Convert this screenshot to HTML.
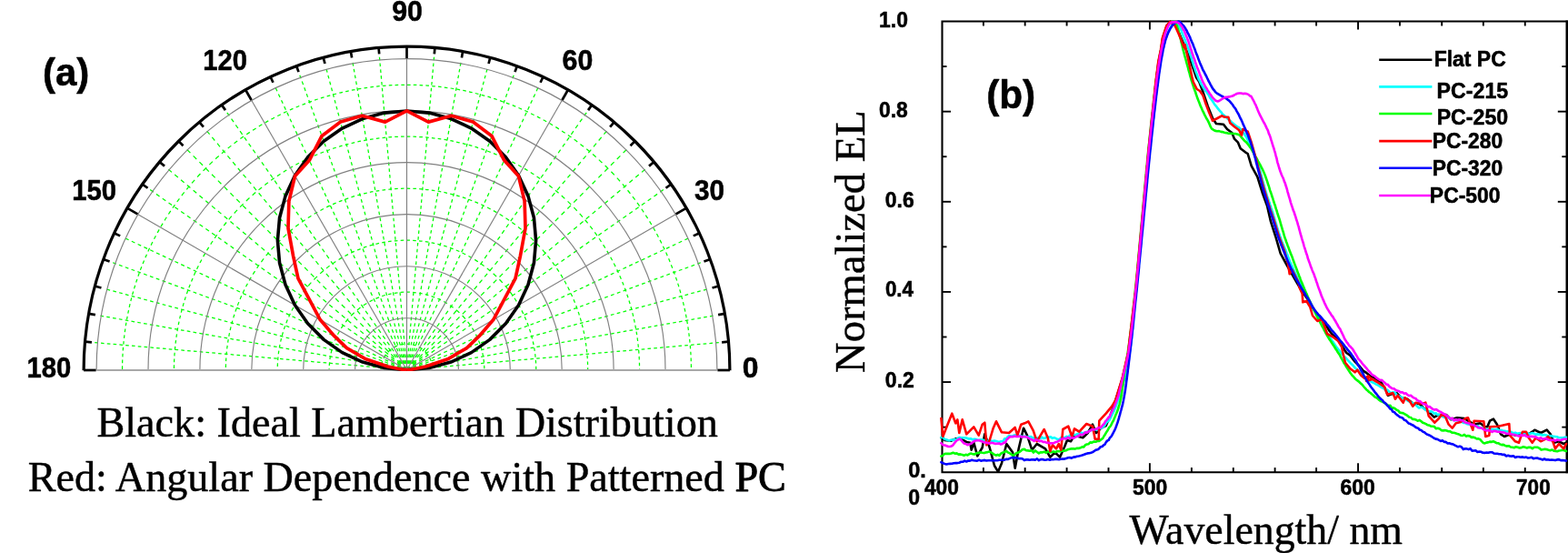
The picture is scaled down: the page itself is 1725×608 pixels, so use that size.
<!DOCTYPE html>
<html><head><meta charset="utf-8"><title>Figure</title>
<style>
html,body{margin:0;padding:0;background:#fff;}
body{width:1725px;height:608px;overflow:hidden;}
svg{display:block;}
.sb,.sr{font-kerning:none;}
.sb{font-family:"Liberation Sans",Arial,Helvetica,sans-serif;font-weight:bold;fill:#000;stroke:#000;stroke-width:0.55;stroke-linejoin:round;}
.sr{font-family:"Liberation Serif","Times New Roman",Times,serif;fill:#000;stroke:#000;stroke-width:0.45;stroke-linejoin:round;}
.gd{stroke:#00ff00;stroke-width:1.25;}
.gs{stroke:#808080;stroke-width:1.15;}
.bk{stroke:#000;stroke-width:3.6;stroke-linejoin:round;}
.rd{stroke:#ff0000;stroke-width:3.7;stroke-linejoin:round;}
.tk{stroke:#000;stroke-width:1.9;}
.cv{stroke-width:2.6;stroke-linejoin:round;stroke-linecap:round;fill:none;}
</style></head><body>
<svg width="1725" height="608" viewBox="0 0 1725 608">
<rect width="1725" height="608" fill="#fff"/>
<g fill="none" transform="translate(0,406.7) scale(1,1.002) translate(0,-406.7)">
<path class="gd" stroke-dasharray="2.62 3.22 3.74 3.48 4.18 4.12 4.82 3.84 3.98 3.38 3.66 3.22 3.6 3.24 3.76 3.52 4.24 4.2 4.74 3.78 3.96 3.34 3.66 3.06" d="M419.05,406.7 A28.45,28.45 0 0 1 475.95,406.7"/>
<path class="gd" stroke-dasharray="1.62 3.2 3.6 3.22 3.66 3.26 3.7 3.32 3.8 3.42 3.94 3.54 4.1 3.74 4.32 3.98 4.66 4.34 5.02 4.26 4.58 3.94 4.28 3.68 4.06 3.54 3.88 3.4 3.78 3.32 3.7 3.24 3.64 3.22 3.6 3.2 3.6 3.22 3.62 3.22 3.66 3.28 3.72 3.36 3.82 3.44 3.96 3.6 4.14 3.8 4.4 4.06 4.76 4.44 4.92 4.16 4.5 3.86 4.22 3.66 4 3.5 3.86 3.38 3.74 3.3 3.68 3.24 3.62 3.22 3.6 1.8" d="M362.15,406.7 A85.35,85.35 0 0 1 532.85,406.7"/>
<path class="gd" stroke-dasharray="0.6 3.22 3.6 3.2 3.62 3.22 3.62 3.24 3.66 3.28 3.7 3.3 3.76 3.36 3.8 3.42 3.88 3.48 3.98 3.58 4.08 3.68 4.2 3.8 4.36 3.96 4.56 4.16 4.8 4.38 5.06 4.36 4.78 4.14 4.54 3.96 4.34 3.8 4.2 3.68 4.06 3.58 3.96 3.48 3.88 3.42 3.8 3.36 3.74 3.3 3.7 3.26 3.66 3.24 3.64 3.22 3.6 3.22 3.6 3.2 3.6 3.2 3.6 3.22 3.62 3.22 3.66 3.24 3.68 3.28 3.72 3.34 3.76 3.38 3.84 3.44 3.92 3.52 4.02 3.62 4.12 3.72 4.28 3.86 4.44 4.04 4.64 4.26 4.9 4.5 4.94 4.28 4.66 4.06 4.46 3.88 4.28 3.76 4.14 3.62 4.02 3.54 3.92 3.46 3.84 3.38 3.78 3.34 3.72 3.28 3.68 3.26 3.66 3.22 3.62 3.22 3.6 3.2 3.6 0.54" d="M305.25,406.7 A142.25,142.25 0 0 1 589.75,406.7"/>
<path class="gd" stroke-dasharray="0 2.82 3.6 3.2 3.6 3.2 3.62 3.22 3.64 3.22 3.66 3.24 3.68 3.26 3.7 3.3 3.74 3.32 3.78 3.36 3.82 3.42 3.86 3.46 3.92 3.52 4 3.58 4.08 3.64 4.16 3.76 4.26 3.84 4.38 3.94 4.52 4.08 4.68 4.22 4.86 4.42 5.06 4.42 4.88 4.24 4.7 4.08 4.52 3.96 4.4 3.84 4.28 3.74 4.16 3.66 4.08 3.6 3.98 3.54 3.92 3.46 3.88 3.42 3.8 3.38 3.78 3.32 3.74 3.3 3.7 3.28 3.66 3.26 3.64 3.24 3.64 3.22 3.6 3.22 3.6 3.2 3.6 3.2 3.6 3.22 3.6 3.2 3.62 3.2 3.62 3.24 3.64 3.24 3.66 3.26 3.68 3.3 3.7 3.32 3.76 3.36 3.78 3.4 3.84 3.44 3.9 3.5 3.96 3.56 4.04 3.62 4.12 3.7 4.22 3.8 4.34 3.9 4.44 4.04 4.6 4.16 4.78 4.34 4.98 4.5 4.96 4.32 4.76 4.16 4.58 4.02 4.44 3.88 4.32 3.8 4.2 3.7 4.1 3.62 4.04 3.54 3.96 3.5 3.88 3.44 3.84 3.38 3.8 3.34 3.76 3.32 3.7 3.3 3.68 3.26 3.66 3.24 3.64 3.22 3.62 3.22 3.6 3.2 3.6 3.2 2.88 0" d="M248.35,406.7 A199.15,199.15 0 0 1 646.65,406.7"/>
<path class="gd" stroke-dasharray="0 1.82 3.6 3.2 3.6 3.2 3.6 3.22 3.62 3.22 3.62 3.22 3.64 3.24 3.66 3.26 3.68 3.28 3.68 3.3 3.72 3.32 3.76 3.34 3.78 3.38 3.82 3.4 3.86 3.46 3.9 3.48 3.96 3.54 4 3.58 4.08 3.64 4.14 3.7 4.22 3.78 4.28 3.86 4.4 3.94 4.5 4.04 4.62 4.14 4.76 4.28 4.9 4.42 5.06 4.46 4.94 4.3 4.78 4.18 4.64 4.06 4.52 3.96 4.4 3.88 4.3 3.8 4.22 3.72 4.16 3.66 4.08 3.6 4.02 3.54 3.96 3.5 3.9 3.46 3.88 3.4 3.84 3.38 3.78 3.36 3.76 3.32 3.72 3.3 3.7 3.28 3.68 3.26 3.66 3.24 3.64 3.24 3.62 3.22 3.62 3.22 3.6 3.22 3.6 3.2 3.6 3.2 3.6 3.2 3.6 3.2 3.62 3.2 3.62 3.22 3.62 3.22 3.64 3.24 3.64 3.26 3.66 3.28 3.7 3.28 3.72 3.3 3.76 3.34 3.76 3.38 3.8 3.4 3.86 3.42 3.9 3.48 3.94 3.52 4 3.56 4.06 3.64 4.1 3.7 4.2 3.76 4.26 3.84 4.36 3.92 4.48 4.02 4.58 4.12 4.7 4.26 4.86 4.38 5.04 4.5 4.96 4.34 4.82 4.22 4.66 4.1 4.54 3.98 4.44 3.9 4.32 3.82 4.24 3.74 4.18 3.66 4.1 3.62 4.02 3.56 3.98 3.52 3.92 3.46 3.88 3.42 3.84 3.4 3.78 3.36 3.78 3.32 3.74 3.3 3.72 3.28 3.68 3.26 3.66 3.26 3.64 3.24 3.62 3.24 3.62 3.2 3.62 3.2 3.6 3.2 3.62 3.2 1.6 0" d="M191.45,406.7 A256.05,256.05 0 0 1 703.55,406.7"/>
<path class="gd" stroke-dasharray="0 0.8 3.62 3.2 3.6 3.2 3.6 3.2 3.62 3.2 3.62 3.22 3.62 3.24 3.62 3.24 3.66 3.24 3.66 3.26 3.68 3.28 3.7 3.28 3.72 3.32 3.74 3.32 3.76 3.36 3.8 3.38 3.82 3.4 3.86 3.44 3.88 3.48 3.92 3.52 3.96 3.56 4 3.6 4.06 3.64 4.12 3.68 4.18 3.76 4.24 3.8 4.32 3.86 4.4 3.94 4.48 4.02 4.58 4.1 4.68 4.22 4.78 4.32 4.92 4.44 5.06 4.48 4.96 4.36 4.84 4.24 4.72 4.14 4.6 4.04 4.52 3.96 4.42 3.9 4.34 3.82 4.26 3.76 4.2 3.72 4.14 3.64 4.08 3.62 4.02 3.56 3.98 3.52 3.94 3.5 3.9 3.44 3.86 3.42 3.84 3.38 3.8 3.36 3.78 3.34 3.74 3.32 3.72 3.3 3.7 3.3 3.68 3.26 3.66 3.26 3.64 3.24 3.64 3.24 3.62 3.22 3.62 3.22 3.62 3.2 3.6 3.2 3.62 3.2 3.6 3.2 3.6 3.2 3.6 3.2 3.6 3.2 3.62 3.2 3.62 3.22 3.62 3.24 3.62 3.24 3.64 3.26 3.66 3.26 3.66 3.28 3.7 3.28 3.72 3.32 3.72 3.34 3.76 3.36 3.78 3.38 3.82 3.4 3.86 3.44 3.88 3.46 3.94 3.5 3.96 3.54 4.02 3.58 4.06 3.64 4.12 3.68 4.18 3.74 4.24 3.8 4.3 3.86 4.4 3.92 4.48 4.02 4.56 4.1 4.66 4.2 4.8 4.3 4.9 4.44 5.04 4.5 4.98 4.36 4.84 4.26 4.72 4.14 4.62 4.06 4.52 3.96 4.44 3.9 4.34 3.82 4.28 3.76 4.22 3.7 4.14 3.66 4.1 3.6 4.04 3.56 4 3.52 3.94 3.48 3.9 3.46 3.86 3.42 3.84 3.4 3.8 3.36 3.78 3.34 3.74 3.32 3.74 3.3 3.7 3.28 3.68 3.26 3.68 3.26 3.64 3.24 3.64 3.24 3.62 3.22 3.62 3.22 3.62 3.2 3.6 3.2 3.62 3.2 3.6 3.2 0.34 0" d="M134.55,406.7 A312.95,312.95 0 0 1 760.45,406.7"/>
<path class="gd" stroke-dasharray="3.61 3.21" d="M447.5,406.7 L791.09,376.64"/>
<path class="gd" stroke-dasharray="3.66 3.25" d="M447.5,406.7 L787.16,346.81"/>
<path class="gd" stroke-dasharray="3.73 3.31" d="M447.5,406.7 L780.65,317.43"/>
<path class="gd" stroke-dasharray="3.83 3.41" d="M447.5,406.7 L771.60,288.74"/>
<path class="gd" stroke-dasharray="3.97 3.53" d="M447.5,406.7 L760.09,260.94"/>
<path class="gd" stroke-dasharray="4.39 3.91" d="M447.5,406.7 L730.03,208.87"/>
<path class="gd" stroke-dasharray="4.70 4.18" d="M447.5,406.7 L711.71,185.00"/>
<path class="gd" stroke-dasharray="5.09 4.53" d="M447.5,406.7 L691.38,162.82"/>
<path class="gd" stroke-dasharray="4.70 4.18" d="M447.5,406.7 L669.20,142.49"/>
<path class="gd" stroke-dasharray="4.39 3.91" d="M447.5,406.7 L645.33,124.17"/>
<path class="gd" stroke-dasharray="3.97 3.53" d="M447.5,406.7 L593.26,94.11"/>
<path class="gd" stroke-dasharray="3.83 3.41" d="M447.5,406.7 L565.46,82.60"/>
<path class="gd" stroke-dasharray="3.73 3.31" d="M447.5,406.7 L536.77,73.55"/>
<path class="gd" stroke-dasharray="3.66 3.25" d="M447.5,406.7 L507.39,67.04"/>
<path class="gd" stroke-dasharray="3.61 3.21" d="M447.5,406.7 L477.56,63.11"/>
<path class="gd" stroke-dasharray="3.61 3.21" d="M447.5,406.7 L417.44,63.11"/>
<path class="gd" stroke-dasharray="3.66 3.25" d="M447.5,406.7 L387.61,67.04"/>
<path class="gd" stroke-dasharray="3.73 3.31" d="M447.5,406.7 L358.23,73.55"/>
<path class="gd" stroke-dasharray="3.83 3.41" d="M447.5,406.7 L329.54,82.60"/>
<path class="gd" stroke-dasharray="3.97 3.53" d="M447.5,406.7 L301.74,94.11"/>
<path class="gd" stroke-dasharray="4.39 3.91" d="M447.5,406.7 L249.67,124.17"/>
<path class="gd" stroke-dasharray="4.70 4.18" d="M447.5,406.7 L225.80,142.49"/>
<path class="gd" stroke-dasharray="5.09 4.53" d="M447.5,406.7 L203.62,162.82"/>
<path class="gd" stroke-dasharray="4.70 4.18" d="M447.5,406.7 L183.29,185.00"/>
<path class="gd" stroke-dasharray="4.39 3.91" d="M447.5,406.7 L164.97,208.87"/>
<path class="gd" stroke-dasharray="3.97 3.53" d="M447.5,406.7 L134.91,260.94"/>
<path class="gd" stroke-dasharray="3.83 3.41" d="M447.5,406.7 L123.40,288.74"/>
<path class="gd" stroke-dasharray="3.73 3.31" d="M447.5,406.7 L114.35,317.43"/>
<path class="gd" stroke-dasharray="3.66 3.25" d="M447.5,406.7 L107.84,346.81"/>
<path class="gd" stroke-dasharray="3.61 3.21" d="M447.5,406.7 L103.91,376.64"/>
<path class="gs" d="M390.60,406.7 A56.90,56.90 0 0 1 504.40,406.7"/>
<path class="gs" d="M333.70,406.7 A113.80,113.80 0 0 1 561.30,406.7"/>
<path class="gs" d="M276.80,406.7 A170.70,170.70 0 0 1 618.20,406.7"/>
<path class="gs" d="M219.90,406.7 A227.60,227.60 0 0 1 675.10,406.7"/>
<path class="gs" d="M163.00,406.7 A284.50,284.50 0 0 1 732.00,406.7"/>
<path class="gs" d="M106.10,406.7 A341.40,341.40 0 0 1 788.90,406.7"/>
<path class="gs" d="M447.5,406.7 L743.16,236.00"/>
<path class="gs" d="M447.5,406.7 L618.20,111.04"/>
<path class="gs" d="M447.5,406.7 L447.50,65.30"/>
<path class="gs" d="M447.5,406.7 L276.80,111.04"/>
<path class="gs" d="M447.5,406.7 L151.84,236.00"/>
<path d="M106.10,407.0 L788.90,407.0" stroke="#a8a8a8" stroke-width="2"/>
<clipPath id="pc"><rect x="0" y="0" width="900" height="407.90"/></clipPath>
<g clip-path="url(#pc)">
<path class="bk" d="M447.50,406.70 L472.18,404.54 L496.10,398.13 L518.55,387.66 L538.84,373.45 L556.35,355.94 L570.56,335.65 L581.03,313.20 L587.44,289.28 L589.60,264.60 L587.44,239.92 L581.03,216.00 L570.56,193.55 L556.35,173.26 L538.84,155.75 L518.55,141.54 L496.10,131.07 L472.18,124.66 L447.50,122.50 L422.82,124.66 L398.90,131.07 L376.45,141.54 L356.16,155.75 L338.65,173.26 L324.44,193.55 L313.97,216.00 L307.56,239.92 L305.40,264.60 L307.56,289.28 L313.97,313.20 L324.44,335.65 L338.65,355.94 L356.16,373.45 L376.45,387.66 L398.90,398.13 L422.82,404.54 L447.50,406.70"/>
<path class="rd" d="M447.50,406.70 L452.48,406.26 L468.18,403.05 L493.38,394.41 L513.56,382.66 L527.26,369.51 L542.76,351.70 L552.76,333.00 L567.00,306.43 L572.38,281.82 L577.99,251.19 L577.13,221.57 L570.40,193.83 L554.72,176.77 L540.94,149.98 L520.41,134.60 L496.68,127.80 L471.30,134.64 L447.50,122.50 L423.70,134.64 L398.32,127.80 L374.59,134.60 L354.06,149.98 L340.28,176.77 L324.60,193.83 L317.87,221.57 L317.01,251.19 L322.62,281.82 L328.00,306.43 L342.24,333.00 L352.24,351.70 L367.74,369.51 L381.44,382.66 L401.62,394.41 L426.82,403.05 L442.52,406.26 L447.50,406.70"/>
</g>
<path d="M92.10,407.3 A355.4,355.4 0 0 1 802.90,407.3" stroke="#000" stroke-width="3.2"/>
<path d="M802.90,407.00 L789.40,407.00" stroke="#000" stroke-width="2.7"/>
<path d="M801.55,375.72 L794.08,376.38" stroke="#000" stroke-width="2.7"/>
<path d="M797.50,344.99 L790.11,346.29" stroke="#000" stroke-width="2.7"/>
<path d="M790.79,314.72 L783.55,316.66" stroke="#000" stroke-width="2.7"/>
<path d="M781.47,285.15 L774.42,287.71" stroke="#000" stroke-width="2.7"/>
<path d="M769.60,256.50 L762.80,259.67" stroke="#000" stroke-width="2.7"/>
<path d="M755.29,229.00 L743.59,235.75" stroke="#000" stroke-width="2.7"/>
<path d="M738.63,202.85 L732.48,207.15" stroke="#000" stroke-width="2.7"/>
<path d="M719.75,178.25 L714.01,183.07" stroke="#000" stroke-width="2.7"/>
<path d="M698.81,155.39 L693.50,160.70" stroke="#000" stroke-width="2.7"/>
<path d="M675.95,134.45 L671.13,140.19" stroke="#000" stroke-width="2.7"/>
<path d="M651.35,115.57 L647.05,121.72" stroke="#000" stroke-width="2.7"/>
<path d="M625.20,98.91 L618.45,110.61" stroke="#000" stroke-width="2.7"/>
<path d="M597.70,84.60 L594.53,91.40" stroke="#000" stroke-width="2.7"/>
<path d="M569.05,72.73 L566.49,79.78" stroke="#000" stroke-width="2.7"/>
<path d="M539.48,63.41 L537.54,70.65" stroke="#000" stroke-width="2.7"/>
<path d="M509.21,56.70 L507.91,64.09" stroke="#000" stroke-width="2.7"/>
<path d="M478.48,52.65 L477.82,60.12" stroke="#000" stroke-width="2.7"/>
<path d="M447.50,51.30 L447.50,64.80" stroke="#000" stroke-width="2.7"/>
<path d="M416.52,52.65 L417.18,60.12" stroke="#000" stroke-width="2.7"/>
<path d="M385.79,56.70 L387.09,64.09" stroke="#000" stroke-width="2.7"/>
<path d="M355.52,63.41 L357.46,70.65" stroke="#000" stroke-width="2.7"/>
<path d="M325.95,72.73 L328.51,79.78" stroke="#000" stroke-width="2.7"/>
<path d="M297.30,84.60 L300.47,91.40" stroke="#000" stroke-width="2.7"/>
<path d="M269.80,98.91 L276.55,110.61" stroke="#000" stroke-width="2.7"/>
<path d="M243.65,115.57 L247.95,121.72" stroke="#000" stroke-width="2.7"/>
<path d="M219.05,134.45 L223.87,140.19" stroke="#000" stroke-width="2.7"/>
<path d="M196.19,155.39 L201.50,160.70" stroke="#000" stroke-width="2.7"/>
<path d="M175.25,178.25 L180.99,183.07" stroke="#000" stroke-width="2.7"/>
<path d="M156.37,202.85 L162.52,207.15" stroke="#000" stroke-width="2.7"/>
<path d="M139.71,229.00 L151.41,235.75" stroke="#000" stroke-width="2.7"/>
<path d="M125.40,256.50 L132.20,259.67" stroke="#000" stroke-width="2.7"/>
<path d="M113.53,285.15 L120.58,287.71" stroke="#000" stroke-width="2.7"/>
<path d="M104.21,314.72 L111.45,316.66" stroke="#000" stroke-width="2.7"/>
<path d="M97.50,344.99 L104.89,346.29" stroke="#000" stroke-width="2.7"/>
<path d="M93.45,375.72 L100.92,376.38" stroke="#000" stroke-width="2.7"/>
<path d="M92.10,407.00 L105.60,407.00" stroke="#000" stroke-width="2.7"/>
</g>
<text class="sb" font-size="32.00" transform="translate(431.22,23.20) scale(0.9481,1)">90</text>
<text class="sb" font-size="32.00" transform="translate(223.34,76.80) scale(0.9099,1)">120</text>
<text class="sb" font-size="32.00" transform="translate(618.57,77.00) scale(0.9469,1)">60</text>
<text class="sb" font-size="32.00" transform="translate(79.13,220.00) scale(0.9159,1)">150</text>
<text class="sb" font-size="32.00" transform="translate(764.09,220.00) scale(0.9286,1)">30</text>
<text class="sb" font-size="32.00" transform="translate(29.53,415.10) scale(0.9139,1)">180</text>
<text class="sb" font-size="32.00" transform="translate(816.72,415.10) scale(0.9955,1)">0</text>
<text class="sb" font-size="43.20" transform="translate(46.98,94.00) scale(0.9723,1)">(a)</text>
<text class="sr" font-size="45.50" transform="translate(106.49,479.70) scale(1.0149,1)">Black: Ideal Lambertian Distribution</text>
<text class="sr" style="font-kerning:normal" font-size="45.50" transform="translate(30.70,540.20) scale(1.0144,1)">Red: Angular Dependence with Patterned <tspan stroke-width="0.9">PC</tspan></text>
<g fill="none">
<path d="M1724.8,23.5 H1036.5 V519.2 H1724.8" stroke="#000" stroke-width="2.1" stroke-linejoin="miter"/>
<path d="M1723.8,22.45 V520.25" stroke="#000" stroke-width="2.6"/>
<path class="tk" d="M1081.90,519.2 v-5.1"/>
<path class="tk" d="M1081.90,23.5 v5"/>
<path class="tk" d="M1127.65,519.2 v-5.1"/>
<path class="tk" d="M1127.65,23.5 v5"/>
<path class="tk" d="M1173.58,519.2 v-5.1"/>
<path class="tk" d="M1173.58,23.5 v5"/>
<path class="tk" d="M1219.50,519.2 v-5.1"/>
<path class="tk" d="M1219.50,23.5 v5"/>
<path class="tk" d="M1264.90,519.2 v-10"/>
<path class="tk" d="M1264.90,23.5 v9"/>
<path class="tk" d="M1310.90,519.2 v-5.1"/>
<path class="tk" d="M1310.90,23.5 v5"/>
<path class="tk" d="M1356.80,519.2 v-5.1"/>
<path class="tk" d="M1356.80,23.5 v5"/>
<path class="tk" d="M1402.60,519.2 v-5.1"/>
<path class="tk" d="M1402.60,23.5 v5"/>
<path class="tk" d="M1448.10,519.2 v-5.1"/>
<path class="tk" d="M1448.10,23.5 v5"/>
<path class="tk" d="M1494.05,519.2 v-10"/>
<path class="tk" d="M1494.05,23.5 v9"/>
<path class="tk" d="M1539.95,519.2 v-5.1"/>
<path class="tk" d="M1539.95,23.5 v5"/>
<path class="tk" d="M1586.20,519.2 v-5.1"/>
<path class="tk" d="M1586.20,23.5 v5"/>
<path class="tk" d="M1631.85,519.2 v-5.1"/>
<path class="tk" d="M1631.85,23.5 v5"/>
<path class="tk" d="M1677.75,519.2 v-5.1"/>
<path class="tk" d="M1677.75,23.5 v5"/>
<path class="tk" d="M1036.5,469.63 h5"/>
<path class="tk" d="M1723.3,469.63 h-5"/>
<path class="tk" d="M1036.5,420.06 h9.5"/>
<path class="tk" d="M1723.3,420.06 h-9.5"/>
<path class="tk" d="M1036.5,370.49 h5"/>
<path class="tk" d="M1723.3,370.49 h-5"/>
<path class="tk" d="M1036.5,320.92 h9.5"/>
<path class="tk" d="M1723.3,320.92 h-9.5"/>
<path class="tk" d="M1036.5,271.35 h5"/>
<path class="tk" d="M1723.3,271.35 h-5"/>
<path class="tk" d="M1036.5,221.78 h9.5"/>
<path class="tk" d="M1723.3,221.78 h-9.5"/>
<path class="tk" d="M1036.5,172.21 h5"/>
<path class="tk" d="M1723.3,172.21 h-5"/>
<path class="tk" d="M1036.5,122.64 h9.5"/>
<path class="tk" d="M1723.3,122.64 h-9.5"/>
<path class="tk" d="M1036.5,73.07 h5"/>
<path class="tk" d="M1723.3,73.07 h-5"/>
<polyline class="cv" stroke="#000" points="1035.4,481.3 1039.3,484.0 1046.0,484.7 1051.3,482.4 1056.7,482.4 1063.3,486.0 1067.3,486.7 1068.7,494.7 1071.3,486.7 1075.3,501.3 1080.7,492.0 1083.3,477.3 1088.7,492.0 1094.0,512.0 1098.0,518.7 1102.0,509.3 1107.3,488.0 1114.0,497.3 1116.7,514.7 1120.7,493.3 1126.0,470.7 1130.0,478.7 1135.3,494.7 1140.7,488.0 1150.0,493.3 1155.3,502.7 1160.7,497.3 1166.0,502.7 1171.3,490.7 1174.0,484.0 1178.0,485.3 1182.0,478.7 1191.3,481.3 1196.7,476.0 1202.0,466.7 1206.0,476.0 1211.3,470.7 1216.7,468.0 1220.7,458.7 1224.7,448.0 1227.3,440.0 1234.9,416.0 1241.3,388.0 1249.8,317.0 1256.7,242.0 1263.6,167.0 1271.5,92.0 1274.5,68.3 1277.2,55.0 1279.2,41.7 1283.6,28.3 1287.6,23.9 1292.0,26.0 1297.0,36.0 1302.0,48.0 1308.0,62.0 1313.0,76.0 1316.0,85.0 1319.3,90.0 1323.3,100.7 1328.7,116.7 1334.0,130.0 1338.0,136.0 1346.0,136.7 1350.0,142.0 1355.3,146.0 1358.0,152.7 1362.0,156.7 1364.7,163.3 1370.0,167.3 1372.7,169.0 1376.7,182.3 1383.3,194.3 1388.7,211.7 1394.0,226.3 1398.0,243.7 1403.3,260.0 1408.7,278.7 1416.0,292.0 1424.0,306.0 1431.0,318.0 1440.0,331.0 1446.0,341.0 1452.0,349.0 1458.0,356.0 1462.7,364.0 1466.0,368.0 1472.0,374.0 1478.0,383.0 1481.3,388.0 1485.3,390.7 1490.0,397.0 1496.0,403.0 1500.0,408.0 1502.7,409.5 1508.0,414.0 1511.0,414.7 1519.0,420.0 1524.3,428.0 1527.0,434.7 1531.0,433.3 1536.3,432.0 1541.7,437.3 1548.3,438.7 1555.0,444.0 1561.7,444.0 1567.0,449.3 1572.3,453.3 1577.7,458.7 1583.0,456.0 1591.0,456.0 1596.3,461.3 1603.0,459.3 1611.0,460.0 1615.0,462.7 1621.7,466.7 1628.3,465.3 1633.7,469.3 1636.3,469.3 1639.0,462.7 1643.0,460.7 1647.0,466.7 1651.0,477.3 1655.0,480.0 1661.7,477.3 1668.3,478.7 1675.0,476.0 1681.7,477.3 1685.7,474.7 1688.3,472.7 1695.0,476.0 1701.7,472.7 1705.7,477.3 1709.7,486.7 1715.0,485.3 1720.3,488.0 1723.0,486.7"/>
<polyline class="cv" stroke="#00ffff" points="1035.4,481.1 1037.2,480.1 1039.0,482.9 1040.9,483.3 1042.7,484.0 1044.5,484.5 1046.4,483.6 1048.3,484.1 1050.1,482.8 1052.0,484.0 1053.9,481.6 1055.8,481.1 1057.8,481.2 1059.8,481.2 1061.8,481.2 1063.8,481.8 1065.8,482.5 1067.8,482.3 1069.8,483.2 1071.8,482.8 1073.8,483.1 1075.8,484.0 1077.8,483.7 1079.8,483.4 1081.8,483.8 1083.8,484.4 1085.8,485.3 1087.8,484.4 1089.8,484.6 1091.8,485.3 1093.9,484.5 1095.9,484.9 1098.0,485.7 1099.9,485.6 1101.8,485.3 1103.6,485.2 1105.2,482.2 1106.8,482.7 1108.5,480.3 1110.2,479.1 1112.1,479.5 1114.1,479.3 1116.1,478.5 1118.1,478.2 1120.1,478.9 1122.1,479.0 1124.1,480.0 1126.1,479.9 1128.1,479.9 1130.1,480.6 1132.1,480.2 1134.1,480.1 1136.1,481.3 1138.0,481.6 1140.0,481.5 1142.0,481.5 1144.0,482.1 1146.0,480.6 1148.0,482.0 1150.0,481.5 1152.0,480.0 1153.9,480.7 1155.9,480.4 1157.9,481.9 1159.8,481.1 1161.8,482.1 1163.7,483.1 1165.7,483.1 1167.6,480.9 1169.6,481.3 1171.5,481.1 1173.5,479.9 1175.4,480.5 1177.3,478.5 1179.3,478.8 1181.2,477.6 1183.2,478.4 1185.1,477.2 1187.1,476.5 1189.0,475.3 1191.0,476.6 1192.9,475.7 1194.9,475.1 1196.8,474.8 1198.7,473.9 1200.7,472.9 1202.6,472.4 1204.6,472.0 1206.7,472.9 1208.7,471.1 1210.5,471.0 1212.1,470.3 1213.7,469.3 1215.2,468.0 1216.6,465.4 1218.0,463.6 1219.2,463.0 1220.4,462.0 1221.5,460.1 1222.5,457.9 1223.4,456.1 1224.3,454.4 1225.2,452.5 1226.0,450.9 1226.8,448.7 1227.5,447.0 1228.2,445.1 1228.9,443.3 1229.6,441.3 1230.2,439.9 1230.8,437.8 1231.4,435.9 1232.0,433.4 1232.7,431.7 1233.3,429.8 1233.8,428.0 1234.4,425.6 1235.0,424.3 1235.6,422.3 1236.1,420.0 1236.7,418.1 1237.2,416.2 1237.7,414.4 1238.2,412.5 1238.7,410.8 1239.1,408.5 1239.6,406.7 1240.0,404.6 1240.4,402.9 1240.8,400.8 1241.2,399.0 1241.5,396.6 1241.8,394.8 1242.1,392.7 1242.4,391.1 1242.7,389.0 1243.0,386.9 1243.3,384.8 1243.5,383.0 1243.8,380.8 1244.1,378.8 1244.3,377.1 1244.5,375.4 1244.8,373.0 1245.0,370.9 1245.2,368.8 1245.4,366.8 1245.6,365.1 1245.8,363.2 1246.1,361.1 1246.2,359.1 1246.4,357.1 1246.6,355.1 1246.8,352.8 1247.0,351.0 1247.2,349.1 1247.4,346.9 1247.6,345.0 1247.8,342.9 1247.9,341.0 1248.1,339.2 1248.3,337.0 1248.5,335.0 1248.7,333.2 1248.8,331.1 1249.0,329.3 1249.2,326.6 1249.4,325.2 1249.6,322.9 1249.8,321.0 1250.0,319.2 1250.2,317.2 1250.4,315.2 1250.6,313.1 1250.8,311.3 1251.0,309.0 1251.2,307.0 1251.4,305.2 1251.6,303.0 1251.8,301.4 1252.0,299.2 1252.2,297.5 1252.4,295.1 1252.6,293.0 1252.8,291.1 1253.0,289.2 1253.2,287.0 1253.4,285.2 1253.5,283.1 1253.7,281.4 1253.9,279.0 1254.1,277.3 1254.3,275.0 1254.5,273.0 1254.7,271.0 1254.9,268.9 1255.1,267.2 1255.3,265.3 1255.5,263.2 1255.7,261.3 1255.8,259.4 1256.0,257.2 1256.2,255.2 1256.4,253.1 1256.6,250.9 1256.8,249.3 1257.0,246.9 1257.2,245.3 1257.4,243.2 1257.6,241.4 1257.8,239.2 1258.0,237.0 1258.2,235.3 1258.4,233.1 1258.5,231.2 1258.7,229.2 1258.9,227.2 1259.1,225.2 1259.3,223.1 1259.5,221.2 1259.7,218.8 1259.9,217.2 1260.1,215.0 1260.2,213.4 1260.4,211.5 1260.6,208.9 1260.8,207.3 1261.0,205.2 1261.2,203.1 1261.4,201.3 1261.6,199.2 1261.8,197.0 1262.0,195.2 1262.2,193.2 1262.4,191.3 1262.6,189.1 1262.7,187.4 1262.9,185.4 1263.1,183.1 1263.3,181.2 1263.5,179.3 1263.7,177.2 1263.9,175.6 1264.1,173.4 1264.4,171.1 1264.6,169.2 1264.8,167.3 1265.0,165.7 1265.2,163.3 1265.4,161.4 1265.6,159.4 1265.8,157.4 1266.0,155.8 1266.2,153.3 1266.4,151.5 1266.6,149.4 1266.9,147.5 1267.1,145.2 1267.3,143.7 1267.5,141.4 1267.7,139.4 1267.9,137.3 1268.1,135.3 1268.4,133.5 1268.6,131.6 1268.8,129.6 1269.0,127.7 1269.2,125.6 1269.5,123.5 1269.7,121.6 1269.9,119.6 1270.2,117.5 1270.4,115.6 1270.6,113.7 1270.9,111.5 1271.1,109.5 1271.3,107.7 1271.6,105.9 1271.8,103.5 1272.1,101.5 1272.3,99.5 1272.6,97.8 1272.8,95.3 1273.1,93.7 1273.4,91.8 1273.6,89.5 1273.9,87.9 1274.1,85.7 1274.4,83.6 1274.7,81.7 1275.0,79.4 1275.2,77.6 1275.5,76.0 1275.8,73.6 1276.1,72.1 1276.4,69.7 1276.7,68.0 1277.1,65.8 1277.4,63.4 1277.8,61.8 1278.1,59.9 1278.5,57.7 1278.9,55.7 1279.3,54.0 1279.7,51.9 1280.2,49.7 1280.7,48.0 1281.2,46.3 1281.7,44.1 1282.3,42.5 1282.9,40.7 1283.7,38.6 1284.5,36.5 1285.3,34.7 1286.2,33.1 1287.1,31.5 1288.1,29.6 1289.0,27.5 1290.0,25.2 1291.1,24.0 1292.6,24.2 1294.4,25.4 1296.0,26.8 1297.1,28.2 1298.0,30.0 1298.9,31.8 1299.7,33.7 1300.4,36.0 1301.1,37.8 1301.9,40.2 1302.7,41.7 1303.4,43.3 1304.2,45.4 1304.9,47.2 1305.6,48.9 1306.3,51.1 1307.0,52.6 1307.7,54.1 1308.3,56.7 1308.9,58.4 1309.6,60.6 1310.2,62.2 1310.8,64.0 1311.4,66.4 1312.0,67.8 1312.6,70.0 1313.2,72.1 1313.8,73.8 1314.5,75.6 1315.1,77.6 1315.8,79.6 1316.5,81.2 1317.3,83.3 1318.0,85.2 1318.8,87.3 1319.6,88.7 1320.5,90.4 1321.4,92.4 1322.4,93.9 1323.5,95.8 1324.6,97.4 1325.8,99.2 1326.9,100.6 1328.1,102.3 1329.2,103.6 1330.3,105.5 1331.3,107.7 1332.4,109.0 1333.5,110.6 1334.6,112.2 1335.8,114.2 1337.0,115.7 1338.2,117.1 1339.5,118.9 1340.7,120.4 1342.0,122.0 1343.4,123.3 1344.7,125.2 1346.1,126.4 1347.6,127.7 1349.0,129.0 1350.5,130.4 1352.0,131.9 1353.5,133.0 1355.1,134.5 1356.7,135.7 1358.2,137.1 1359.8,138.3 1361.4,139.3 1363.0,140.2 1364.6,141.9 1365.9,143.4 1367.2,144.8 1368.3,146.5 1369.4,148.0 1370.5,149.8 1371.5,151.4 1372.4,153.6 1373.4,155.1 1374.3,156.8 1375.2,158.5 1376.0,160.5 1376.9,162.6 1377.7,164.3 1378.4,165.9 1379.2,168.2 1379.9,170.0 1380.6,171.8 1381.3,173.7 1382.0,175.6 1382.7,177.4 1383.3,179.3 1384.0,181.0 1384.6,183.3 1385.2,185.0 1385.8,187.2 1386.4,188.4 1387.0,190.8 1387.5,192.8 1388.1,194.5 1388.6,196.5 1389.1,198.5 1389.6,200.4 1390.1,202.2 1390.6,204.2 1391.2,206.3 1391.7,208.3 1392.3,210.0 1392.9,211.9 1393.5,213.9 1394.1,215.9 1394.8,217.5 1395.4,219.3 1396.1,221.5 1396.7,223.1 1397.3,225.1 1398.0,227.2 1398.6,229.1 1399.2,230.8 1399.8,233.0 1400.4,234.5 1401.0,236.8 1401.5,238.4 1402.1,240.3 1402.7,242.6 1403.3,244.3 1403.9,246.2 1404.5,248.1 1405.1,250.2 1405.7,252.0 1406.3,254.0 1406.9,256.1 1407.5,257.6 1408.2,259.6 1408.8,261.5 1409.5,263.6 1410.2,265.5 1411.0,267.4 1411.7,269.0 1412.5,270.9 1413.2,272.9 1414.0,274.6 1414.8,276.6 1415.5,278.5 1416.3,280.1 1417.0,282.0 1417.8,283.9 1418.5,286.1 1419.3,288.1 1420.1,289.5 1420.8,291.3 1421.6,292.8 1422.4,295.1 1423.2,296.8 1424.0,298.5 1424.9,300.6 1425.7,302.0 1426.6,304.1 1427.5,306.0 1428.3,307.5 1429.2,309.7 1430.2,311.5 1431.1,312.8 1432.1,314.6 1433.1,316.7 1434.1,318.3 1435.0,319.9 1436.0,321.8 1436.9,323.6 1437.8,325.4 1438.7,327.3 1439.7,329.0 1440.6,331.1 1441.5,332.8 1442.4,334.4 1443.3,336.3 1444.2,338.1 1445.2,339.8 1446.1,341.2 1447.0,343.4 1447.9,345.0 1448.9,347.1 1449.8,348.6 1450.7,350.4 1451.7,352.2 1452.7,354.1 1453.6,355.6 1454.6,357.3 1455.6,359.1 1456.7,360.7 1457.7,362.6 1458.7,364.2 1459.8,366.0 1460.8,368.0 1461.9,369.3 1463.0,371.0 1464.1,372.7 1465.2,374.5 1466.4,375.8 1467.5,377.5 1468.7,379.3 1469.9,381.0 1471.1,382.5 1472.3,384.0 1473.6,385.5 1474.9,387.3 1476.2,389.0 1477.5,390.3 1478.8,391.8 1480.2,393.3 1481.5,394.5 1482.9,396.1 1484.3,397.6 1485.7,399.1 1487.1,400.5 1488.5,401.7 1489.9,403.5 1491.3,405.0 1492.8,406.1 1494.2,407.7 1495.6,409.1 1496.9,410.7 1498.3,411.8 1499.7,413.7 1501.2,414.7 1502.7,416.2 1504.3,417.2 1506.0,418.1 1507.8,419.2 1509.6,420.3 1511.4,421.0 1513.1,422.1 1514.9,423.0 1516.6,423.7 1518.4,425.2 1520.2,426.2 1522.0,426.8 1523.7,428.4 1525.5,428.2 1527.3,429.6 1529.1,431.4 1530.9,431.9 1532.7,431.2 1534.5,431.5 1536.2,433.6 1538.1,435.6 1539.9,435.6 1541.7,436.6 1543.5,437.9 1545.3,438.0 1547.1,439.5 1548.9,440.7 1550.6,441.5 1552.3,442.5 1554.1,443.0 1555.8,444.6 1557.6,445.1 1559.3,447.0 1561.1,448.5 1562.9,447.7 1564.7,447.7 1566.6,449.4 1568.4,450.6 1570.3,451.7 1572.2,452.5 1574.0,452.2 1575.9,452.9 1577.8,454.8 1579.6,454.2 1581.5,456.1 1583.4,456.1 1585.3,457.3 1587.1,458.0 1589.0,458.7 1591.0,459.3 1592.9,458.9 1594.8,460.1 1596.7,460.6 1598.7,461.3 1600.6,462.3 1602.5,462.1 1604.4,462.5 1606.3,463.0 1608.3,463.8 1610.2,465.0 1612.1,464.7 1614.0,466.3 1615.9,466.4 1617.9,466.7 1619.8,466.7 1621.7,468.1 1623.7,468.8 1625.6,468.1 1627.6,470.1 1629.5,470.8 1631.5,470.5 1633.4,470.9 1635.4,472.3 1637.4,472.0 1639.4,471.2 1641.4,472.0 1643.3,472.2 1645.3,472.5 1647.3,471.6 1649.3,473.4 1651.3,472.9 1653.3,473.6 1655.3,473.7 1657.3,474.5 1659.2,474.3 1661.2,474.4 1663.2,475.5 1665.2,476.3 1667.1,475.7 1669.1,476.8 1671.1,476.3 1673.1,476.0 1675.1,477.2 1677.1,476.0 1679.1,477.1 1681.1,476.4 1683.2,476.9 1685.2,476.1 1687.2,476.5 1689.2,477.6 1691.1,477.4 1693.1,477.6 1695.1,477.7 1697.1,478.5 1699.1,477.9 1701.0,478.4 1703.0,479.2 1705.0,479.1 1707.0,479.3 1709.0,479.9 1711.0,480.0 1713.0,480.2 1715.0,481.3 1717.0,481.2 1719.0,481.4 1721.0,480.9 1723.0,480.7"/>
<polyline class="cv" stroke="#00ff00" points="1035.4,501.6 1037.2,501.0 1039.0,499.0 1040.9,498.9 1042.7,498.9 1044.6,498.9 1046.5,498.5 1048.5,497.7 1050.5,498.7 1052.5,498.4 1054.5,499.6 1056.5,499.4 1058.5,499.9 1060.5,500.8 1062.5,499.8 1064.5,500.4 1066.5,499.1 1068.5,498.6 1070.5,499.4 1072.5,499.4 1074.5,498.0 1076.6,498.2 1078.6,497.2 1080.6,497.7 1082.6,498.1 1084.6,497.4 1086.6,497.1 1088.5,496.6 1090.4,497.5 1092.2,498.6 1094.0,499.8 1095.8,500.7 1097.6,499.9 1099.4,500.8 1101.2,498.7 1103.1,497.5 1104.9,497.2 1106.8,495.6 1108.7,497.3 1110.6,498.2 1112.5,499.5 1114.4,500.6 1116.2,500.1 1118.0,498.2 1119.8,497.8 1121.5,496.8 1123.3,495.6 1125.1,494.1 1127.0,493.9 1128.9,495.2 1130.9,495.4 1132.9,495.7 1134.9,495.2 1136.9,497.5 1138.9,495.4 1140.9,497.0 1142.9,498.4 1144.9,497.2 1146.9,497.4 1148.9,496.6 1150.9,497.9 1152.9,496.5 1154.9,497.2 1157.0,497.1 1159.0,496.4 1161.0,497.3 1162.9,496.0 1164.9,496.2 1166.9,496.2 1168.9,495.6 1170.8,495.6 1172.8,495.3 1174.7,494.2 1176.7,493.7 1178.7,493.4 1180.7,493.2 1182.7,493.6 1184.8,492.8 1186.7,492.9 1188.7,492.3 1190.5,491.4 1192.3,491.4 1194.0,489.2 1195.6,488.5 1197.4,488.3 1199.3,486.4 1201.3,486.6 1203.4,485.5 1205.5,485.8 1207.4,484.9 1209.1,485.0 1210.5,483.9 1211.9,482.9 1213.2,482.0 1214.5,479.5 1215.6,477.9 1216.8,475.8 1218.0,474.1 1219.1,472.1 1220.2,469.9 1221.2,469.1 1222.2,467.6 1223.1,465.7 1224.1,463.7 1225.0,462.3 1225.8,460.1 1226.6,458.3 1227.4,456.3 1228.2,454.5 1228.9,452.8 1229.5,451.3 1230.2,449.0 1230.8,446.9 1231.4,445.1 1231.9,443.2 1232.4,441.0 1232.8,439.4 1233.2,437.5 1233.5,435.5 1233.9,433.6 1234.2,431.3 1234.4,429.2 1234.7,427.7 1235.0,425.7 1235.2,423.3 1235.5,421.6 1235.7,419.5 1236.0,417.6 1236.3,415.6 1236.6,413.5 1236.9,411.6 1237.2,409.6 1237.5,407.6 1237.8,405.3 1238.2,403.2 1238.5,401.6 1238.8,399.4 1239.2,397.8 1239.5,395.9 1239.8,393.8 1240.1,391.8 1240.4,389.9 1240.7,388.1 1241.0,385.8 1241.3,384.1 1241.6,382.0 1241.8,380.0 1242.1,378.2 1242.4,375.8 1242.6,374.1 1242.9,371.8 1243.1,369.9 1243.4,367.8 1243.6,366.1 1243.9,363.9 1244.1,362.1 1244.4,359.9 1244.6,358.3 1244.9,356.4 1245.1,354.1 1245.3,352.4 1245.6,350.2 1245.8,348.5 1246.0,346.1 1246.3,343.9 1246.5,342.4 1246.7,340.1 1246.9,338.0 1247.1,336.1 1247.4,333.9 1247.6,332.2 1247.8,330.0 1248.0,328.5 1248.2,326.3 1248.4,323.9 1248.7,322.0 1248.9,320.1 1249.1,317.9 1249.3,316.2 1249.5,314.2 1249.7,312.1 1249.9,310.2 1250.1,308.4 1250.3,306.5 1250.5,304.5 1250.7,302.3 1250.9,300.4 1251.1,298.2 1251.3,296.4 1251.4,294.1 1251.6,292.4 1251.8,290.1 1252.0,288.2 1252.2,286.3 1252.4,284.4 1252.5,282.1 1252.7,280.3 1252.9,278.4 1253.1,276.4 1253.3,274.2 1253.4,272.4 1253.6,270.3 1253.8,268.6 1254.0,266.5 1254.2,264.1 1254.3,262.0 1254.5,260.4 1254.7,258.6 1254.9,256.4 1255.1,254.6 1255.2,252.3 1255.4,250.2 1255.6,248.5 1255.8,246.4 1256.0,244.5 1256.2,242.2 1256.3,240.5 1256.5,238.3 1256.7,236.6 1256.9,234.3 1257.1,232.3 1257.3,230.4 1257.4,228.7 1257.6,226.5 1257.8,224.3 1258.0,222.3 1258.2,220.3 1258.4,218.7 1258.5,216.2 1258.7,214.3 1258.9,212.6 1259.1,210.7 1259.3,208.5 1259.4,206.6 1259.6,204.6 1259.8,202.7 1260.0,200.5 1260.2,198.8 1260.4,196.6 1260.5,194.8 1260.7,192.4 1260.9,190.7 1261.1,188.3 1261.3,186.3 1261.5,184.7 1261.7,182.4 1261.9,180.7 1262.1,178.4 1262.2,176.9 1262.4,174.6 1262.6,172.4 1262.8,170.6 1263.0,168.8 1263.2,166.5 1263.4,164.7 1263.6,163.0 1263.8,160.8 1264.0,158.7 1264.3,156.6 1264.5,154.8 1264.7,152.4 1264.9,150.2 1265.1,148.6 1265.3,146.5 1265.5,145.0 1265.7,142.7 1265.9,140.5 1266.1,138.5 1266.3,136.8 1266.6,134.6 1266.8,132.6 1267.0,130.7 1267.2,128.8 1267.4,126.8 1267.6,124.8 1267.9,123.0 1268.1,121.1 1268.3,118.5 1268.5,117.3 1268.8,114.9 1269.0,113.1 1269.2,110.7 1269.5,108.9 1269.7,106.9 1269.9,104.9 1270.2,103.0 1270.4,101.0 1270.6,98.7 1270.9,96.9 1271.1,95.1 1271.4,93.1 1271.6,90.9 1271.9,88.9 1272.1,87.0 1272.4,84.8 1272.7,82.8 1272.9,81.3 1273.2,79.0 1273.5,77.1 1273.8,74.9 1274.1,73.3 1274.4,71.4 1274.7,69.1 1275.0,67.2 1275.3,65.0 1275.6,63.5 1276.0,61.4 1276.3,59.1 1276.7,57.5 1277.1,55.4 1277.4,53.4 1277.8,51.4 1278.3,49.3 1278.7,47.4 1279.1,45.6 1279.6,43.5 1280.1,41.4 1280.6,39.9 1281.1,37.6 1281.7,35.6 1282.3,33.6 1283.0,32.0 1283.8,30.3 1284.7,28.4 1285.9,26.7 1287.2,24.9 1289.0,24.2 1290.9,23.9 1292.6,25.1 1293.9,26.9 1294.8,28.1 1295.5,30.8 1296.1,32.0 1296.6,34.3 1297.1,36.4 1297.5,38.4 1298.1,40.3 1298.6,41.7 1299.1,43.9 1299.5,46.2 1300.0,47.8 1300.5,49.8 1300.9,51.5 1301.4,54.1 1301.9,55.9 1302.4,57.6 1302.9,59.6 1303.4,61.6 1303.9,63.3 1304.5,65.4 1305.0,67.4 1305.5,69.4 1306.1,71.5 1306.6,73.2 1307.1,75.0 1307.6,77.1 1308.1,78.9 1308.7,80.7 1309.2,83.1 1309.7,84.7 1310.3,86.7 1310.9,88.8 1311.5,90.4 1312.1,92.6 1312.7,94.4 1313.3,96.3 1314.0,98.2 1314.6,99.9 1315.3,101.6 1315.9,103.8 1316.6,105.6 1317.3,107.8 1318.0,109.5 1318.7,111.3 1319.5,113.2 1320.2,115.3 1321.0,117.1 1321.8,118.8 1322.6,120.7 1323.4,122.4 1324.3,124.2 1325.2,126.1 1326.1,127.8 1327.0,129.7 1328.0,131.2 1328.9,132.8 1329.9,134.8 1330.8,137.1 1331.8,139.4 1332.8,141.2 1334.0,142.2 1335.3,143.0 1337.0,143.9 1339.0,144.2 1341.1,144.1 1343.2,144.9 1345.2,145.1 1347.1,145.8 1349.1,146.1 1351.0,146.6 1353.0,146.8 1355.1,146.7 1357.1,147.0 1359.1,147.0 1361.0,147.5 1362.6,147.9 1364.2,149.0 1365.7,150.9 1367.2,152.6 1368.6,154.2 1370.0,155.5 1371.3,156.6 1372.6,158.3 1373.9,159.9 1375.0,161.6 1376.2,162.9 1377.2,164.9 1378.3,166.7 1379.3,168.2 1380.3,170.2 1381.2,172.1 1382.2,173.7 1383.2,175.6 1384.1,177.4 1385.1,179.0 1386.0,180.8 1387.0,182.4 1387.9,184.5 1388.8,186.0 1389.6,187.8 1390.5,189.8 1391.2,191.4 1392.0,193.5 1392.7,195.5 1393.3,197.2 1394.0,199.1 1394.6,201.1 1395.2,203.0 1395.8,204.5 1396.4,206.5 1397.0,208.9 1397.6,210.6 1398.2,212.1 1398.9,214.1 1399.5,216.3 1400.2,218.0 1400.8,220.1 1401.4,222.0 1402.0,223.9 1402.7,225.6 1403.3,227.8 1403.9,229.9 1404.5,231.3 1405.1,233.6 1405.7,235.5 1406.3,237.3 1406.9,239.1 1407.5,240.8 1408.1,242.8 1408.7,245.0 1409.2,247.0 1409.8,248.9 1410.4,250.8 1410.9,252.7 1411.5,254.4 1412.0,256.2 1412.6,258.4 1413.2,260.3 1413.8,262.2 1414.5,263.8 1415.1,265.9 1415.8,267.6 1416.5,269.7 1417.2,271.4 1417.9,273.4 1418.6,275.4 1419.4,277.2 1420.1,279.3 1420.8,280.7 1421.5,282.4 1422.3,284.8 1423.0,286.8 1423.7,288.7 1424.3,290.4 1425.0,292.3 1425.7,294.1 1426.4,295.7 1427.1,297.7 1427.8,299.8 1428.6,301.5 1429.3,303.8 1430.0,305.0 1430.7,307.1 1431.5,309.2 1432.2,310.8 1433.0,312.6 1433.7,314.4 1434.5,316.3 1435.3,318.6 1436.1,320.2 1436.9,322.1 1437.7,323.7 1438.5,325.8 1439.3,327.5 1440.1,329.2 1440.9,331.1 1441.8,333.0 1442.6,335.0 1443.5,336.6 1444.3,338.5 1445.2,340.6 1446.1,341.9 1447.0,343.6 1447.8,345.8 1448.7,347.5 1449.6,349.2 1450.5,351.0 1451.5,352.7 1452.4,354.6 1453.3,356.3 1454.2,358.2 1455.2,359.7 1456.1,361.5 1457.0,363.4 1458.0,365.1 1459.0,367.1 1459.9,368.7 1460.9,370.3 1462.0,372.2 1463.0,373.7 1464.1,375.2 1465.2,377.0 1466.3,378.7 1467.5,380.4 1468.6,382.2 1469.7,384.0 1470.8,385.6 1471.9,387.5 1473.0,389.1 1474.0,390.5 1475.0,392.6 1476.0,394.3 1476.9,395.8 1477.9,397.7 1478.8,399.6 1479.9,401.1 1480.9,403.0 1482.0,404.6 1483.1,406.3 1484.2,407.9 1485.3,409.7 1486.5,411.2 1487.7,412.9 1488.9,414.0 1490.3,415.8 1491.8,417.2 1493.4,418.4 1495.0,419.6 1496.4,421.0 1497.8,422.2 1499.2,423.7 1500.5,425.3 1501.9,426.8 1503.3,428.4 1504.7,429.5 1506.2,431.1 1507.7,432.0 1509.3,433.4 1510.8,434.8 1512.4,436.3 1514.0,437.2 1515.6,438.2 1517.2,439.8 1518.8,440.9 1520.5,441.4 1522.2,442.5 1524.0,443.6 1525.8,444.9 1527.6,446.1 1529.4,445.8 1531.2,448.7 1533.0,448.4 1534.7,449.2 1536.5,450.7 1538.2,451.4 1540.0,453.6 1541.7,453.9 1543.4,454.1 1545.2,455.1 1546.9,456.1 1548.6,457.2 1550.4,458.7 1552.2,459.0 1554.0,461.0 1555.8,460.9 1557.7,461.5 1559.6,462.8 1561.5,461.9 1563.3,463.1 1565.2,464.7 1567.0,465.3 1568.8,466.2 1570.6,467.3 1572.4,467.6 1574.2,468.6 1576.1,468.7 1578.0,469.1 1579.9,471.3 1581.8,470.7 1583.8,471.4 1585.7,473.1 1587.6,473.4 1589.6,473.1 1591.5,473.6 1593.5,474.3 1595.4,474.3 1597.4,475.6 1599.3,475.8 1601.3,476.3 1603.2,477.1 1605.1,477.6 1607.1,478.7 1609.0,479.0 1611.0,477.8 1612.9,479.7 1614.8,479.1 1616.8,479.4 1618.8,480.9 1620.8,480.6 1622.7,481.3 1624.6,482.5 1626.5,482.3 1628.3,483.2 1630.0,485.2 1631.7,486.9 1633.5,487.4 1635.2,486.6 1637.1,486.4 1638.9,485.6 1640.8,485.9 1642.7,485.3 1644.5,486.0 1646.4,487.1 1648.2,487.2 1650.1,488.4 1652.0,489.1 1653.9,488.9 1655.8,489.9 1657.8,490.6 1659.8,490.2 1661.8,491.5 1663.7,491.8 1665.7,492.2 1667.7,491.3 1669.7,491.8 1671.7,492.5 1673.8,492.1 1675.8,491.3 1677.8,491.8 1679.8,492.5 1681.8,491.7 1683.8,491.9 1685.8,493.1 1687.8,491.7 1689.7,491.8 1691.7,491.9 1693.6,492.8 1695.5,494.6 1697.4,494.2 1699.4,493.8 1701.4,494.1 1703.5,494.7 1705.5,495.2 1707.5,494.5 1709.4,495.7 1711.3,495.9 1713.2,496.2 1715.1,495.5 1717.0,495.3 1719.0,494.8 1721.0,495.2 1723.0,496.0"/>
<polyline class="cv" stroke="#ff0000" points="1035.4,460.0 1037.3,480.0 1042.0,468.0 1047.3,454.7 1051.3,465.3 1053.3,461.3 1055.3,476.0 1058.7,461.3 1063.3,477.3 1067.3,473.3 1071.3,469.3 1076.7,478.7 1080.7,466.7 1083.3,464.7 1085.3,489.3 1088.7,484.0 1092.7,470.7 1096.0,463.3 1102.0,475.3 1110.0,476.0 1116.7,470.0 1119.3,478.7 1123.3,466.7 1127.3,465.3 1131.3,463.3 1136.7,473.3 1140.7,485.3 1144.7,478.7 1148.7,472.0 1152.7,481.3 1155.3,496.0 1158.0,489.3 1162.0,493.3 1164.7,488.0 1167.3,494.7 1169.3,472.0 1175.3,468.7 1179.3,480.0 1182.0,471.3 1187.3,474.7 1195.3,466.0 1202.0,468.7 1204.7,482.7 1208.7,482.7 1209.3,462.7 1216.7,454.7 1223.3,446.7 1227.3,440.0 1234.6,416.0 1241.0,388.0 1249.5,317.0 1256.4,242.0 1263.3,167.0 1271.2,92.0 1274.2,68.3 1276.9,55.0 1278.9,41.7 1283.3,28.3 1287.3,23.9 1292.7,28.3 1298.0,40.3 1302.7,52.3 1303.5,49.0 1307.3,65.7 1311.3,84.3 1312.7,90.0 1316.7,98.0 1320.0,100.0 1323.3,104.7 1326.0,112.7 1330.0,123.3 1334.0,132.7 1339.3,130.0 1344.0,127.3 1347.3,128.7 1351.3,128.7 1353.3,135.3 1358.0,139.3 1363.3,143.3 1366.0,148.7 1367.3,142.0 1372.7,144.7 1376.7,156.7 1380.5,170.0 1385.5,189.0 1391.0,209.0 1397.5,230.3 1401.5,242.0 1407.0,260.0 1413.5,277.3 1417.0,290.0 1418.7,301.3 1421.5,296.5 1428.0,309.3 1429.5,316.0 1432.7,323.0 1433.3,332.3 1437.3,331.0 1441.3,337.7 1444.0,347.0 1449.3,353.0 1454.0,351.0 1457.3,359.0 1460.0,367.0 1466.7,370.7 1472.0,374.7 1476.0,381.3 1478.0,390.7 1480.0,398.7 1485.3,405.3 1490.7,409.3 1493.3,406.7 1497.3,412.7 1501.3,416.0 1505.3,413.3 1509.3,417.3 1503.0,418.7 1505.7,414.7 1515.0,420.0 1523.0,425.3 1526.3,434.0 1532.3,432.0 1535.0,438.7 1537.7,434.7 1543.7,442.7 1545.7,437.3 1551.0,441.3 1554.3,446.7 1557.7,442.7 1564.3,444.0 1568.3,442.7 1571.7,457.3 1578.3,464.7 1583.0,460.0 1585.7,456.0 1589.7,457.3 1593.7,466.7 1597.7,470.7 1601.7,465.3 1607.0,464.0 1612.3,460.0 1615.0,459.3 1620.3,472.7 1621.7,462.7 1632.3,463.3 1634.3,480.0 1638.3,478.7 1639.0,469.3 1648.3,468.7 1660.3,466.0 1661.0,478.7 1667.0,485.3 1671.0,486.7 1675.0,474.7 1679.0,474.7 1681.7,481.3 1685.7,486.7 1689.7,481.3 1695.0,485.3 1700.3,482.7 1703.0,480.0 1708.3,485.3 1711.0,493.3 1715.0,488.0 1720.3,493.3 1723.0,488.0"/>
<polyline class="cv" stroke="#0000ff" points="1035.4,508.1 1037.4,509.3 1039.4,509.9 1041.3,510.4 1043.3,510.0 1045.3,509.9 1047.3,509.8 1049.3,509.2 1051.3,509.1 1053.3,509.1 1055.3,508.7 1057.3,507.8 1059.2,507.8 1061.2,506.6 1063.2,507.5 1065.2,506.5 1067.1,506.6 1069.1,505.8 1071.1,506.3 1073.1,506.5 1075.1,506.7 1077.1,505.7 1079.1,506.7 1081.2,506.2 1083.2,505.9 1085.2,506.5 1087.2,506.2 1089.2,506.2 1091.2,506.0 1093.2,506.4 1095.2,506.3 1097.2,506.2 1099.2,505.7 1101.2,505.7 1103.2,505.7 1105.1,505.7 1107.1,504.7 1109.1,504.9 1111.1,503.9 1113.1,503.1 1115.1,503.6 1117.0,502.9 1119.0,503.6 1121.0,504.2 1123.0,504.0 1125.0,504.6 1126.9,506.1 1128.9,505.3 1130.9,505.4 1132.9,505.7 1134.9,505.3 1136.9,505.4 1138.9,505.6 1140.9,504.4 1142.9,506.2 1145.0,505.1 1147.0,505.1 1149.0,505.8 1151.0,505.6 1153.0,505.0 1155.0,505.7 1157.0,505.1 1159.0,505.2 1161.0,504.8 1163.0,504.9 1165.0,505.2 1167.0,504.8 1169.0,504.6 1171.0,504.6 1173.0,503.9 1174.9,503.3 1176.9,503.1 1178.9,503.7 1180.9,502.6 1182.9,502.4 1184.8,501.8 1186.8,501.5 1188.8,501.1 1190.7,500.4 1192.6,499.8 1194.6,499.0 1196.5,498.4 1198.4,498.3 1200.2,497.8 1202.1,497.1 1204.0,495.8 1205.8,494.6 1207.5,494.3 1209.2,493.2 1210.9,491.2 1212.5,491.0 1214.0,489.5 1215.5,488.6 1216.9,486.0 1218.3,484.5 1219.7,483.9 1221.0,481.2 1222.2,480.3 1223.3,478.6 1224.2,476.9 1225.2,475.0 1226.0,473.4 1226.8,471.7 1227.6,469.8 1228.3,467.9 1229.0,465.9 1229.6,464.2 1230.2,462.2 1230.8,460.4 1231.3,458.0 1231.9,456.4 1232.4,454.2 1232.9,452.5 1233.5,450.5 1234.0,448.4 1234.5,446.7 1235.0,444.9 1235.4,442.8 1235.8,440.9 1236.2,438.7 1236.6,436.7 1236.9,434.7 1237.3,432.9 1237.6,431.1 1237.9,429.0 1238.2,427.0 1238.5,424.8 1238.8,423.1 1239.0,421.0 1239.3,418.7 1239.6,416.8 1239.8,415.0 1240.1,412.9 1240.3,411.3 1240.6,409.1 1240.8,406.9 1241.1,405.0 1241.3,403.3 1241.6,400.9 1241.8,399.2 1242.0,397.2 1242.3,395.3 1242.5,393.2 1242.8,391.1 1243.0,389.2 1243.2,387.2 1243.5,385.3 1243.7,383.1 1243.9,381.5 1244.2,379.2 1244.4,377.2 1244.6,375.1 1244.8,373.2 1245.1,371.2 1245.3,369.2 1245.5,367.3 1245.7,365.1 1245.9,363.1 1246.2,361.4 1246.4,359.2 1246.6,357.1 1246.8,355.4 1247.0,353.4 1247.2,350.9 1247.4,349.2 1247.6,347.4 1247.8,345.4 1248.0,343.2 1248.2,341.5 1248.4,339.2 1248.6,337.3 1248.8,335.3 1249.0,333.3 1249.2,331.4 1249.4,329.5 1249.7,327.3 1249.9,325.5 1250.1,323.2 1250.3,321.3 1250.5,319.6 1250.7,317.4 1250.9,315.5 1251.1,313.3 1251.3,311.3 1251.5,309.3 1251.7,307.4 1251.9,305.3 1252.1,303.4 1252.3,301.5 1252.5,299.6 1252.7,297.4 1252.9,295.5 1253.1,293.5 1253.2,291.2 1253.4,289.2 1253.6,287.6 1253.8,285.6 1254.0,283.4 1254.2,281.5 1254.4,279.3 1254.6,277.2 1254.8,275.5 1255.0,273.2 1255.2,271.6 1255.4,269.3 1255.6,267.5 1255.7,265.7 1255.9,263.7 1256.1,261.4 1256.3,259.6 1256.5,257.3 1256.7,255.4 1256.9,253.5 1257.1,251.7 1257.3,249.4 1257.5,247.6 1257.7,245.5 1257.9,243.3 1258.1,241.5 1258.2,239.7 1258.4,237.5 1258.6,235.6 1258.8,233.6 1259.0,231.4 1259.2,229.7 1259.4,227.7 1259.6,225.8 1259.8,223.7 1260.0,221.5 1260.2,219.4 1260.3,217.4 1260.5,215.4 1260.7,213.4 1260.9,211.7 1261.1,209.8 1261.3,207.5 1261.5,205.7 1261.7,203.4 1261.9,201.5 1262.1,199.4 1262.2,197.3 1262.4,195.6 1262.6,193.6 1262.8,191.5 1263.0,189.5 1263.2,187.4 1263.4,185.6 1263.6,183.5 1263.8,181.6 1264.0,179.4 1264.2,177.6 1264.4,175.7 1264.6,173.8 1264.8,171.8 1265.0,169.7 1265.2,167.5 1265.4,165.4 1265.7,163.6 1265.9,161.9 1266.1,159.9 1266.3,157.3 1266.5,155.5 1266.7,153.6 1266.9,151.5 1267.1,149.7 1267.3,147.7 1267.5,145.6 1267.8,143.7 1268.0,141.5 1268.2,139.6 1268.4,137.6 1268.6,135.8 1268.8,133.5 1269.0,131.7 1269.3,129.8 1269.5,127.7 1269.7,125.9 1269.9,123.7 1270.2,121.8 1270.4,119.9 1270.6,118.1 1270.9,115.9 1271.1,114.0 1271.3,111.8 1271.6,109.8 1271.8,108.1 1272.0,105.9 1272.3,104.0 1272.5,102.0 1272.8,100.2 1273.0,98.2 1273.3,95.8 1273.6,94.2 1273.8,92.0 1274.1,90.0 1274.3,87.9 1274.6,86.0 1274.9,83.8 1275.1,81.9 1275.4,79.9 1275.7,78.0 1276.0,76.1 1276.3,74.1 1276.6,72.1 1276.9,70.0 1277.2,67.8 1277.5,66.1 1277.9,64.1 1278.2,62.2 1278.6,60.4 1279.0,58.2 1279.3,56.2 1279.7,53.9 1280.2,52.4 1280.6,50.3 1281.1,48.3 1281.6,46.5 1282.1,44.3 1282.7,42.5 1283.3,41.0 1284.0,38.9 1284.8,37.0 1285.6,35.1 1286.5,33.3 1287.4,31.5 1288.4,30.1 1289.6,28.1 1291.0,26.6 1292.5,25.2 1294.3,24.4 1296.3,23.6 1298.0,24.0 1299.7,25.8 1301.1,27.5 1302.4,28.7 1303.6,30.4 1304.6,32.2 1305.6,33.7 1306.5,36.0 1307.4,37.4 1308.3,39.3 1309.1,40.8 1309.9,43.2 1310.7,44.9 1311.5,46.9 1312.3,48.4 1313.0,50.5 1313.7,52.3 1314.5,54.2 1315.2,56.4 1315.9,58.3 1316.6,60.0 1317.3,61.6 1318.0,63.7 1318.7,65.6 1319.4,67.4 1320.1,69.3 1320.9,71.1 1321.7,72.8 1322.5,74.8 1323.3,76.8 1324.2,78.2 1325.2,80.1 1326.1,82.0 1327.0,83.5 1327.9,85.5 1328.7,87.1 1329.5,89.0 1330.5,90.7 1331.5,92.6 1332.5,94.4 1333.5,96.3 1334.6,98.0 1335.8,99.3 1337.1,101.3 1338.5,102.3 1340.1,103.3 1341.9,104.4 1343.7,105.5 1345.4,106.3 1347.2,107.4 1349.0,108.3 1350.7,109.6 1352.1,110.6 1353.5,112.2 1354.9,113.8 1356.1,115.3 1357.3,117.2 1358.4,118.6 1359.5,120.1 1360.5,122.1 1361.5,123.8 1362.5,125.5 1363.4,127.4 1364.3,129.5 1365.2,131.0 1366.0,132.8 1366.8,134.5 1367.6,136.6 1368.4,138.3 1369.2,140.0 1370.0,141.8 1370.8,143.9 1371.5,145.8 1372.3,147.3 1373.1,149.3 1373.8,151.3 1374.5,153.3 1375.2,154.8 1375.9,156.8 1376.5,158.9 1377.1,160.6 1377.7,162.6 1378.3,164.5 1378.8,166.3 1379.4,168.4 1379.9,170.4 1380.4,172.1 1381.0,174.2 1381.5,176.3 1381.9,178.1 1382.4,180.2 1382.9,181.9 1383.4,184.1 1383.9,185.8 1384.4,188.1 1384.9,189.7 1385.4,191.6 1385.9,193.5 1386.4,195.5 1386.9,197.5 1387.4,199.4 1387.9,201.4 1388.4,203.5 1389.0,205.4 1389.5,207.2 1390.0,209.3 1390.6,210.9 1391.2,212.8 1391.8,214.7 1392.4,216.9 1393.0,218.5 1393.6,220.4 1394.2,222.7 1394.8,224.7 1395.4,226.6 1396.1,228.1 1396.7,230.2 1397.3,232.2 1397.9,234.0 1398.5,235.7 1399.2,237.8 1399.8,239.5 1400.4,241.4 1401.0,243.9 1401.6,245.6 1402.1,247.2 1402.7,249.1 1403.3,251.3 1403.8,253.1 1404.4,255.2 1405.0,256.9 1405.6,258.9 1406.3,260.8 1406.9,262.5 1407.6,264.3 1408.4,266.3 1409.1,268.2 1409.8,270.2 1410.6,272.0 1411.3,273.9 1412.1,275.8 1412.8,277.5 1413.6,279.7 1414.4,281.6 1415.1,283.2 1415.9,285.1 1416.7,287.1 1417.5,288.8 1418.3,290.6 1419.1,292.4 1419.9,294.1 1420.7,295.9 1421.6,298.0 1422.4,299.9 1423.3,301.3 1424.2,303.3 1425.1,305.1 1426.0,306.8 1426.9,308.5 1427.9,310.3 1429.0,311.8 1430.0,313.8 1431.1,315.5 1432.1,317.5 1433.2,319.1 1434.2,320.6 1435.3,322.3 1436.4,324.3 1437.4,326.0 1438.5,327.5 1439.5,329.2 1440.5,330.7 1441.5,332.6 1442.4,334.4 1443.4,336.1 1444.4,338.2 1445.4,339.4 1446.6,341.3 1447.8,342.9 1449.1,344.4 1450.4,346.1 1451.8,347.1 1453.2,348.7 1454.6,350.3 1455.9,351.8 1457.3,353.2 1458.6,354.7 1459.8,356.5 1461.1,357.7 1462.4,359.3 1463.7,361.2 1464.9,362.8 1466.2,364.2 1467.4,365.6 1468.7,367.1 1469.9,368.7 1471.2,370.2 1472.5,371.9 1473.7,373.7 1475.0,375.1 1476.3,376.5 1477.5,378.0 1478.8,379.6 1480.0,381.5 1481.3,382.6 1482.5,384.5 1483.8,385.8 1485.0,387.4 1486.3,388.9 1487.5,390.9 1488.7,392.4 1489.8,394.4 1490.9,395.5 1491.9,397.2 1492.9,399.2 1493.9,401.0 1494.9,402.6 1495.9,404.1 1496.9,406.3 1497.9,408.0 1498.8,409.7 1499.7,411.4 1500.7,413.3 1501.6,414.9 1502.6,416.7 1503.7,418.4 1504.8,420.3 1505.9,421.7 1507.0,423.4 1508.1,425.3 1509.3,426.8 1510.5,428.3 1511.7,429.9 1512.9,431.6 1514.2,433.0 1515.5,434.7 1516.8,436.4 1518.1,437.7 1519.5,439.0 1520.9,440.0 1522.2,442.1 1523.6,442.9 1525.0,444.2 1526.4,446.0 1527.8,447.3 1529.3,449.6 1530.7,449.9 1532.2,452.6 1533.7,452.9 1535.2,454.6 1536.8,456.1 1538.4,457.1 1540.0,458.6 1541.6,459.0 1543.2,459.6 1544.8,461.7 1546.5,462.2 1548.1,463.8 1549.8,465.6 1551.5,466.1 1553.2,467.0 1554.9,467.8 1556.7,469.2 1558.4,470.3 1560.1,470.7 1561.8,472.6 1563.5,473.0 1565.3,474.6 1567.0,475.3 1568.8,476.9 1570.5,477.8 1572.3,478.4 1574.0,479.3 1575.8,480.5 1577.6,481.8 1579.4,482.6 1581.2,482.9 1583.1,483.8 1585.0,485.0 1586.9,484.3 1588.7,485.9 1590.7,485.9 1592.6,487.5 1594.5,487.3 1596.4,488.1 1598.3,488.3 1600.2,489.4 1602.1,490.3 1604.1,491.3 1606.0,490.6 1607.9,491.5 1609.8,494.1 1611.8,493.3 1613.7,493.4 1615.6,494.1 1617.6,493.2 1619.5,495.6 1621.5,495.5 1623.4,495.3 1625.4,497.0 1627.4,496.6 1629.3,496.8 1631.3,497.7 1633.3,497.9 1635.3,497.5 1637.3,497.8 1639.3,497.2 1641.3,497.2 1643.3,498.4 1645.3,498.8 1647.2,498.8 1649.2,499.2 1651.2,499.3 1653.1,499.9 1655.1,499.9 1657.1,501.4 1659.1,500.7 1661.1,501.5 1663.0,501.6 1665.0,501.3 1667.0,503.0 1669.0,502.2 1671.0,502.2 1673.0,502.7 1675.0,502.4 1677.0,503.0 1679.0,502.6 1681.0,503.5 1683.0,503.3 1685.0,502.8 1687.0,504.1 1689.0,503.8 1691.0,503.5 1693.0,504.3 1695.0,504.6 1697.0,505.5 1699.0,504.5 1701.0,505.5 1703.0,505.2 1705.0,505.7 1707.0,505.5 1709.0,505.7 1711.0,506.1 1713.0,505.4 1715.0,505.1 1717.0,506.1 1719.0,506.0 1721.0,506.3 1723.0,506.6"/>
<polyline class="cv" stroke="#ff00ff" points="1035.4,487.2 1037.5,489.3 1039.5,489.5 1041.4,490.2 1043.3,491.0 1045.0,491.0 1046.7,490.5 1048.3,489.6 1049.8,487.5 1051.3,485.6 1052.7,484.2 1054.2,483.4 1055.8,482.5 1057.5,484.0 1059.1,486.0 1060.8,487.7 1062.6,488.0 1064.3,489.2 1066.0,488.8 1067.8,487.9 1069.6,486.6 1071.4,485.2 1073.2,484.6 1075.1,484.2 1077.0,484.2 1078.9,484.9 1080.9,485.5 1082.9,486.5 1084.9,486.5 1086.9,487.1 1088.9,487.7 1090.9,486.7 1093.0,487.3 1095.1,487.9 1097.1,487.8 1099.1,487.4 1101.0,488.5 1102.8,487.9 1104.4,486.5 1106.0,486.6 1107.5,483.2 1109.0,482.1 1110.6,480.4 1112.3,480.1 1114.1,480.3 1116.1,479.6 1118.1,480.0 1120.2,480.0 1122.2,479.5 1124.3,480.6 1126.3,480.1 1128.2,480.2 1130.0,480.7 1131.9,481.8 1133.8,483.0 1135.6,483.5 1137.6,484.9 1139.5,483.3 1141.5,483.9 1143.5,485.2 1145.5,484.7 1147.5,486.0 1149.5,485.9 1151.5,486.8 1153.5,486.8 1155.5,487.4 1157.4,487.2 1159.4,487.1 1161.3,486.1 1163.2,485.7 1165.1,484.6 1167.0,483.3 1168.9,482.3 1170.9,481.9 1172.9,482.6 1174.9,480.8 1176.9,482.0 1178.9,481.2 1180.8,481.7 1182.7,480.9 1184.6,479.8 1186.5,479.5 1188.4,477.5 1190.3,478.1 1192.1,477.4 1193.9,475.3 1195.7,475.8 1197.5,474.4 1199.3,473.7 1201.2,472.0 1203.0,472.4 1205.0,471.9 1207.0,471.2 1208.9,470.1 1210.5,470.1 1212.0,469.1 1213.4,467.1 1214.7,465.8 1216.0,463.3 1217.3,462.1 1218.4,460.6 1219.6,458.8 1220.7,458.5 1221.7,455.5 1222.6,453.5 1223.6,451.9 1224.5,449.8 1225.4,448.2 1226.2,446.5 1227.0,444.4 1227.7,442.6 1228.4,440.6 1229.1,438.9 1229.7,436.9 1230.3,435.4 1230.8,433.3 1231.3,431.2 1231.8,429.0 1232.3,427.7 1232.8,425.6 1233.3,423.5 1233.7,421.5 1234.2,419.5 1234.6,417.4 1235.1,415.9 1235.6,413.7 1236.1,411.4 1236.6,409.6 1237.0,407.3 1237.5,405.9 1238.0,404.0 1238.5,402.2 1238.9,400.3 1239.4,397.9 1239.8,396.1 1240.2,394.3 1240.6,392.3 1240.9,390.1 1241.3,388.3 1241.6,386.3 1241.9,384.5 1242.2,382.3 1242.5,380.3 1242.8,378.2 1243.1,376.3 1243.3,374.2 1243.6,372.3 1243.9,370.5 1244.1,368.5 1244.4,366.6 1244.6,364.6 1244.9,362.5 1245.1,360.2 1245.3,358.5 1245.6,356.7 1245.8,354.2 1246.0,352.3 1246.2,350.3 1246.5,348.3 1246.7,346.4 1246.9,344.3 1247.1,342.5 1247.3,340.3 1247.5,338.5 1247.7,336.4 1247.9,334.3 1248.1,332.7 1248.3,330.5 1248.5,328.6 1248.7,326.4 1248.9,324.6 1249.1,322.6 1249.3,320.5 1249.5,318.2 1249.8,316.7 1250.0,314.6 1250.2,312.6 1250.4,310.6 1250.6,308.6 1250.8,306.6 1251.0,304.4 1251.2,302.5 1251.3,300.6 1251.5,298.5 1251.7,296.4 1251.9,294.9 1252.1,292.7 1252.3,290.5 1252.5,288.5 1252.7,286.1 1252.8,284.3 1253.0,282.6 1253.2,280.8 1253.4,278.2 1253.6,276.5 1253.7,274.9 1253.9,272.7 1254.1,270.7 1254.3,268.8 1254.5,266.6 1254.6,264.6 1254.8,262.8 1255.0,260.8 1255.2,258.4 1255.4,256.9 1255.5,254.3 1255.7,252.5 1255.9,251.2 1256.1,248.6 1256.3,246.8 1256.5,244.5 1256.6,242.6 1256.8,240.5 1257.0,238.6 1257.2,236.8 1257.4,235.0 1257.6,232.8 1257.7,231.0 1257.9,228.6 1258.1,226.9 1258.3,224.8 1258.5,222.9 1258.7,220.6 1258.8,218.7 1259.0,216.9 1259.2,214.8 1259.4,212.7 1259.6,210.6 1259.7,208.7 1259.9,206.8 1260.1,204.9 1260.3,202.6 1260.5,200.7 1260.7,198.8 1260.8,196.5 1261.0,194.9 1261.2,192.7 1261.4,190.7 1261.6,188.3 1261.8,186.5 1262.0,184.6 1262.2,182.7 1262.3,180.6 1262.5,178.8 1262.7,176.8 1262.9,174.7 1263.1,172.4 1263.3,171.0 1263.5,168.7 1263.7,166.9 1263.9,164.7 1264.1,162.8 1264.3,160.9 1264.5,158.9 1264.7,157.0 1264.9,154.8 1265.1,153.2 1265.4,150.5 1265.6,148.8 1265.8,147.0 1266.0,144.8 1266.2,142.8 1266.4,140.6 1266.6,139.1 1266.8,136.6 1267.0,135.0 1267.3,132.9 1267.5,131.1 1267.7,129.2 1267.9,126.8 1268.1,124.8 1268.3,122.9 1268.6,120.6 1268.8,119.1 1269.0,116.9 1269.2,115.0 1269.5,112.8 1269.7,111.0 1269.9,108.9 1270.2,107.0 1270.4,104.8 1270.6,103.2 1270.9,100.9 1271.1,98.6 1271.4,97.2 1271.6,95.0 1271.9,92.9 1272.1,91.5 1272.4,89.1 1272.6,86.9 1272.9,85.0 1273.1,83.2 1273.4,81.1 1273.7,79.4 1274.0,77.3 1274.2,75.0 1274.5,73.2 1274.8,71.3 1275.2,69.2 1275.5,67.2 1275.8,65.4 1276.1,63.4 1276.4,61.1 1276.8,59.2 1277.2,57.3 1277.5,55.4 1277.9,53.3 1278.3,51.7 1278.7,49.3 1279.2,47.4 1279.6,45.6 1280.1,43.2 1280.6,41.5 1281.1,39.8 1281.7,37.5 1282.3,35.7 1282.9,34.1 1283.7,32.1 1284.4,30.3 1285.3,28.5 1286.4,26.4 1287.7,25.2 1289.4,24.4 1291.5,24.4 1293.5,24.2 1295.4,24.7 1297.1,25.7 1298.5,27.2 1299.7,28.6 1300.8,30.3 1301.7,32.5 1302.7,33.8 1303.5,35.7 1304.4,37.9 1305.1,39.9 1305.9,41.3 1306.6,43.6 1307.3,45.1 1308.0,47.4 1308.6,49.1 1309.2,50.8 1309.8,52.9 1310.4,54.8 1311.0,56.5 1311.6,58.9 1312.3,60.4 1312.9,62.6 1313.6,64.2 1314.3,65.8 1314.9,67.8 1315.6,69.9 1316.3,71.9 1317.0,74.0 1317.7,75.6 1318.4,77.4 1319.1,79.1 1319.8,81.2 1320.5,83.1 1321.3,84.6 1322.0,87.0 1322.8,88.8 1323.7,90.8 1324.5,92.1 1325.5,94.0 1326.4,95.8 1327.5,97.3 1328.5,99.1 1329.6,100.8 1330.8,102.7 1332.0,104.3 1333.3,106.3 1334.6,107.8 1336.1,109.3 1337.6,110.8 1339.1,111.4 1340.8,111.1 1342.5,110.2 1344.4,108.7 1346.2,107.9 1348.1,106.9 1350.1,106.7 1352.1,106.4 1354.1,105.9 1356.0,105.5 1357.9,104.5 1359.6,103.5 1361.4,102.8 1363.4,102.5 1365.4,102.5 1367.4,103.1 1369.4,102.8 1371.4,103.1 1373.4,103.9 1375.0,105.4 1376.4,105.8 1377.5,107.8 1378.6,109.8 1379.5,111.5 1380.4,113.6 1381.3,115.1 1382.1,117.1 1382.9,118.9 1383.6,120.8 1384.4,122.7 1385.2,124.5 1386.1,126.5 1387.0,128.1 1387.9,129.8 1388.8,131.6 1389.7,133.4 1390.6,135.0 1391.6,136.7 1392.5,138.6 1393.4,140.6 1394.3,142.3 1395.1,144.1 1395.8,146.6 1396.5,148.1 1397.2,149.8 1397.8,151.7 1398.4,153.9 1399.0,155.5 1399.6,157.7 1400.2,159.5 1400.8,161.6 1401.4,163.1 1402.0,165.3 1402.5,166.8 1403.1,169.0 1403.6,171.1 1404.1,173.0 1404.6,174.5 1405.0,176.9 1405.5,178.8 1406.1,180.7 1406.6,182.5 1407.2,184.5 1407.8,186.3 1408.5,188.5 1409.2,190.3 1409.9,192.2 1410.7,194.0 1411.5,195.5 1412.3,197.6 1413.0,199.8 1413.7,201.2 1414.3,203.3 1414.9,205.0 1415.5,206.9 1416.1,209.0 1416.6,211.1 1417.2,213.0 1417.7,214.9 1418.3,216.9 1418.8,218.4 1419.4,220.7 1419.9,222.6 1420.5,224.4 1421.1,226.3 1421.8,228.1 1422.4,230.3 1423.1,231.9 1423.8,233.6 1424.4,235.8 1425.1,237.6 1425.7,239.6 1426.3,241.8 1426.9,243.4 1427.5,245.3 1428.1,247.6 1428.6,248.9 1429.1,251.2 1429.7,253.3 1430.2,255.3 1430.7,257.3 1431.2,258.7 1431.8,260.9 1432.3,262.7 1432.9,264.6 1433.5,266.4 1434.0,268.2 1434.6,270.5 1435.2,272.5 1435.8,274.0 1436.4,276.3 1437.0,278.0 1437.6,279.8 1438.2,281.4 1438.8,284.0 1439.5,285.8 1440.1,287.5 1440.8,289.4 1441.4,291.1 1442.1,293.3 1442.9,295.1 1443.6,297.1 1444.3,298.9 1445.1,300.5 1445.8,302.3 1446.5,304.5 1447.2,306.1 1447.8,308.3 1448.5,310.3 1449.1,311.8 1449.8,314.1 1450.4,315.9 1451.1,317.8 1451.8,319.5 1452.5,321.5 1453.2,323.5 1453.9,325.6 1454.7,327.3 1455.4,329.1 1456.2,330.6 1457.0,332.7 1457.8,334.4 1458.7,336.3 1459.6,338.1 1460.6,339.9 1461.7,341.6 1462.7,343.2 1463.8,344.8 1465.0,346.8 1466.1,348.0 1467.2,349.9 1468.3,351.8 1469.3,353.3 1470.3,355.2 1471.3,356.9 1472.3,358.9 1473.3,360.5 1474.3,361.7 1475.2,363.8 1476.1,365.6 1477.0,367.5 1477.9,369.3 1478.7,371.4 1479.6,373.1 1480.5,374.4 1481.5,376.2 1482.7,377.5 1484.0,379.7 1485.4,380.9 1486.7,382.4 1488.0,383.7 1489.1,385.5 1490.2,387.4 1491.2,389.0 1492.2,390.7 1493.2,392.4 1494.3,394.5 1495.5,395.7 1496.8,397.1 1498.0,398.8 1499.3,400.4 1500.7,401.9 1502.0,403.4 1503.3,404.8 1504.6,406.5 1505.9,408.1 1507.3,409.3 1508.7,411.3 1510.2,412.5 1511.7,413.1 1513.4,414.5 1515.0,415.9 1516.7,417.0 1518.5,418.2 1520.2,417.9 1521.8,419.4 1523.5,420.9 1525.1,422.6 1526.8,422.9 1528.4,424.9 1530.1,426.1 1531.8,427.3 1533.5,427.2 1535.3,428.8 1537.1,429.5 1539.0,429.9 1540.9,431.4 1542.9,431.2 1544.8,432.7 1546.7,432.3 1548.5,434.2 1550.3,435.1 1552.1,434.7 1553.8,436.4 1555.5,437.5 1557.2,437.9 1558.9,439.9 1560.6,440.9 1562.3,441.1 1564.0,442.7 1565.8,444.1 1567.5,444.5 1569.3,445.2 1571.0,447.4 1572.8,447.0 1574.6,448.6 1576.4,449.9 1578.2,450.6 1580.1,450.0 1581.9,451.5 1583.8,452.4 1585.6,453.2 1587.4,454.5 1589.1,455.4 1590.8,456.4 1592.5,457.7 1594.1,459.3 1595.8,460.5 1597.6,459.6 1599.4,462.3 1601.4,461.2 1603.4,462.2 1605.4,461.2 1607.4,462.2 1609.3,462.3 1611.2,464.2 1613.1,464.8 1614.9,465.1 1616.8,465.8 1618.6,466.9 1620.5,467.0 1622.4,467.9 1624.2,468.6 1626.1,470.2 1628.0,470.5 1629.9,470.5 1631.8,472.0 1633.7,472.7 1635.6,473.6 1637.6,472.9 1639.5,473.7 1641.5,474.9 1643.5,473.8 1645.5,474.1 1647.5,474.8 1649.5,474.6 1651.5,475.3 1653.4,475.4 1655.4,475.7 1657.4,477.0 1659.3,476.7 1661.3,476.7 1663.3,477.4 1665.3,477.8 1667.2,478.3 1669.2,478.9 1671.2,479.6 1673.2,478.3 1675.2,479.0 1677.2,478.4 1679.2,479.8 1681.2,480.2 1683.2,479.8 1685.1,479.9 1687.1,480.1 1689.1,480.1 1691.1,481.5 1693.1,482.4 1695.1,481.1 1697.1,482.9 1699.0,482.3 1701.0,482.1 1703.0,483.5 1705.0,483.9 1707.0,483.9 1709.0,483.5 1711.0,484.6 1713.0,483.5 1715.0,484.0 1717.0,484.0 1719.0,483.2 1721.0,482.7 1723.0,482.7"/>
</g>
<text class="sb" font-size="23.60" transform="translate(967.03,29.80) scale(0.9703,1)">1.0</text>
<text class="sb" font-size="23.60" transform="translate(966.97,128.80) scale(0.9680,1)">0.8</text>
<text class="sb" font-size="23.60" transform="translate(973.87,228.10) scale(0.9719,1)">0.6</text>
<text class="sb" font-size="23.60" transform="translate(973.89,326.40) scale(0.9497,1)">0.4</text>
<text class="sb" font-size="23.60" transform="translate(973.87,425.60) scale(0.9748,1)">0.2</text>
<text class="sb" font-size="23.60" transform="translate(999.15,524.80) scale(0.9957,1)">0.</text>
<text class="sb" font-size="23.60" transform="translate(999.16,555.10) scale(0.9756,1)">0</text>
<text class="sb" font-size="23.60" transform="translate(1016.93,544.10) scale(0.9632,1)">400</text>
<text class="sb" font-size="23.60" transform="translate(1245.97,544.20) scale(0.9700,1)">500</text>
<text class="sb" font-size="23.60" transform="translate(1474.53,544.20) scale(0.9735,1)">600</text>
<text class="sb" font-size="23.60" transform="translate(1668.11,544.20) scale(0.9534,1)">700</text>
<text class="sb" font-size="43.50" transform="translate(1085.17,118.60) scale(0.9734,1)">(b)</text>
<text class="sr" style="font-kerning:normal" font-size="47.00" transform="translate(1242.48,598.00) scale(0.9755,1)">Wavelength/ nm</text>
<text class="sr" font-size="47.30" transform="translate(951.30,409.92) rotate(-90) scale(0.9857,1)">Normalized EL</text>
<path d="M1517.2,65.8 H1575.4" stroke="#000" stroke-width="2.6" fill="none"/>
<text class="sb" font-size="23.60" transform="translate(1577.64,73.30) scale(0.9744,1)">Flat PC</text>
<path d="M1517.2,95.4 H1575.4" stroke="#00ffff" stroke-width="2.6" fill="none"/>
<text class="sb" font-size="23.60" transform="translate(1580.62,107.80) scale(0.9829,1)">PC-215</text>
<path d="M1517.2,125 H1575.4" stroke="#00ff00" stroke-width="2.6" fill="none"/>
<text class="sb" font-size="23.60" transform="translate(1580.63,137.40) scale(0.9816,1)">PC-250</text>
<path d="M1517.2,155.1 H1575.4" stroke="#ff0000" stroke-width="2.6" fill="none"/>
<text class="sb" font-size="23.60" transform="translate(1575.75,162.80) scale(0.9687,1)">PC-280</text>
<path d="M1517.2,184.8 H1575.4" stroke="#0000ff" stroke-width="2.6" fill="none"/>
<text class="sb" font-size="23.60" transform="translate(1575.75,192.60) scale(0.9687,1)">PC-320</text>
<path d="M1517.2,215 H1575.4" stroke="#ff00ff" stroke-width="2.6" fill="none"/>
<text class="sb" font-size="23.60" transform="translate(1572.84,222.60) scale(0.9726,1)">PC-500</text>
</svg>
</body></html>
